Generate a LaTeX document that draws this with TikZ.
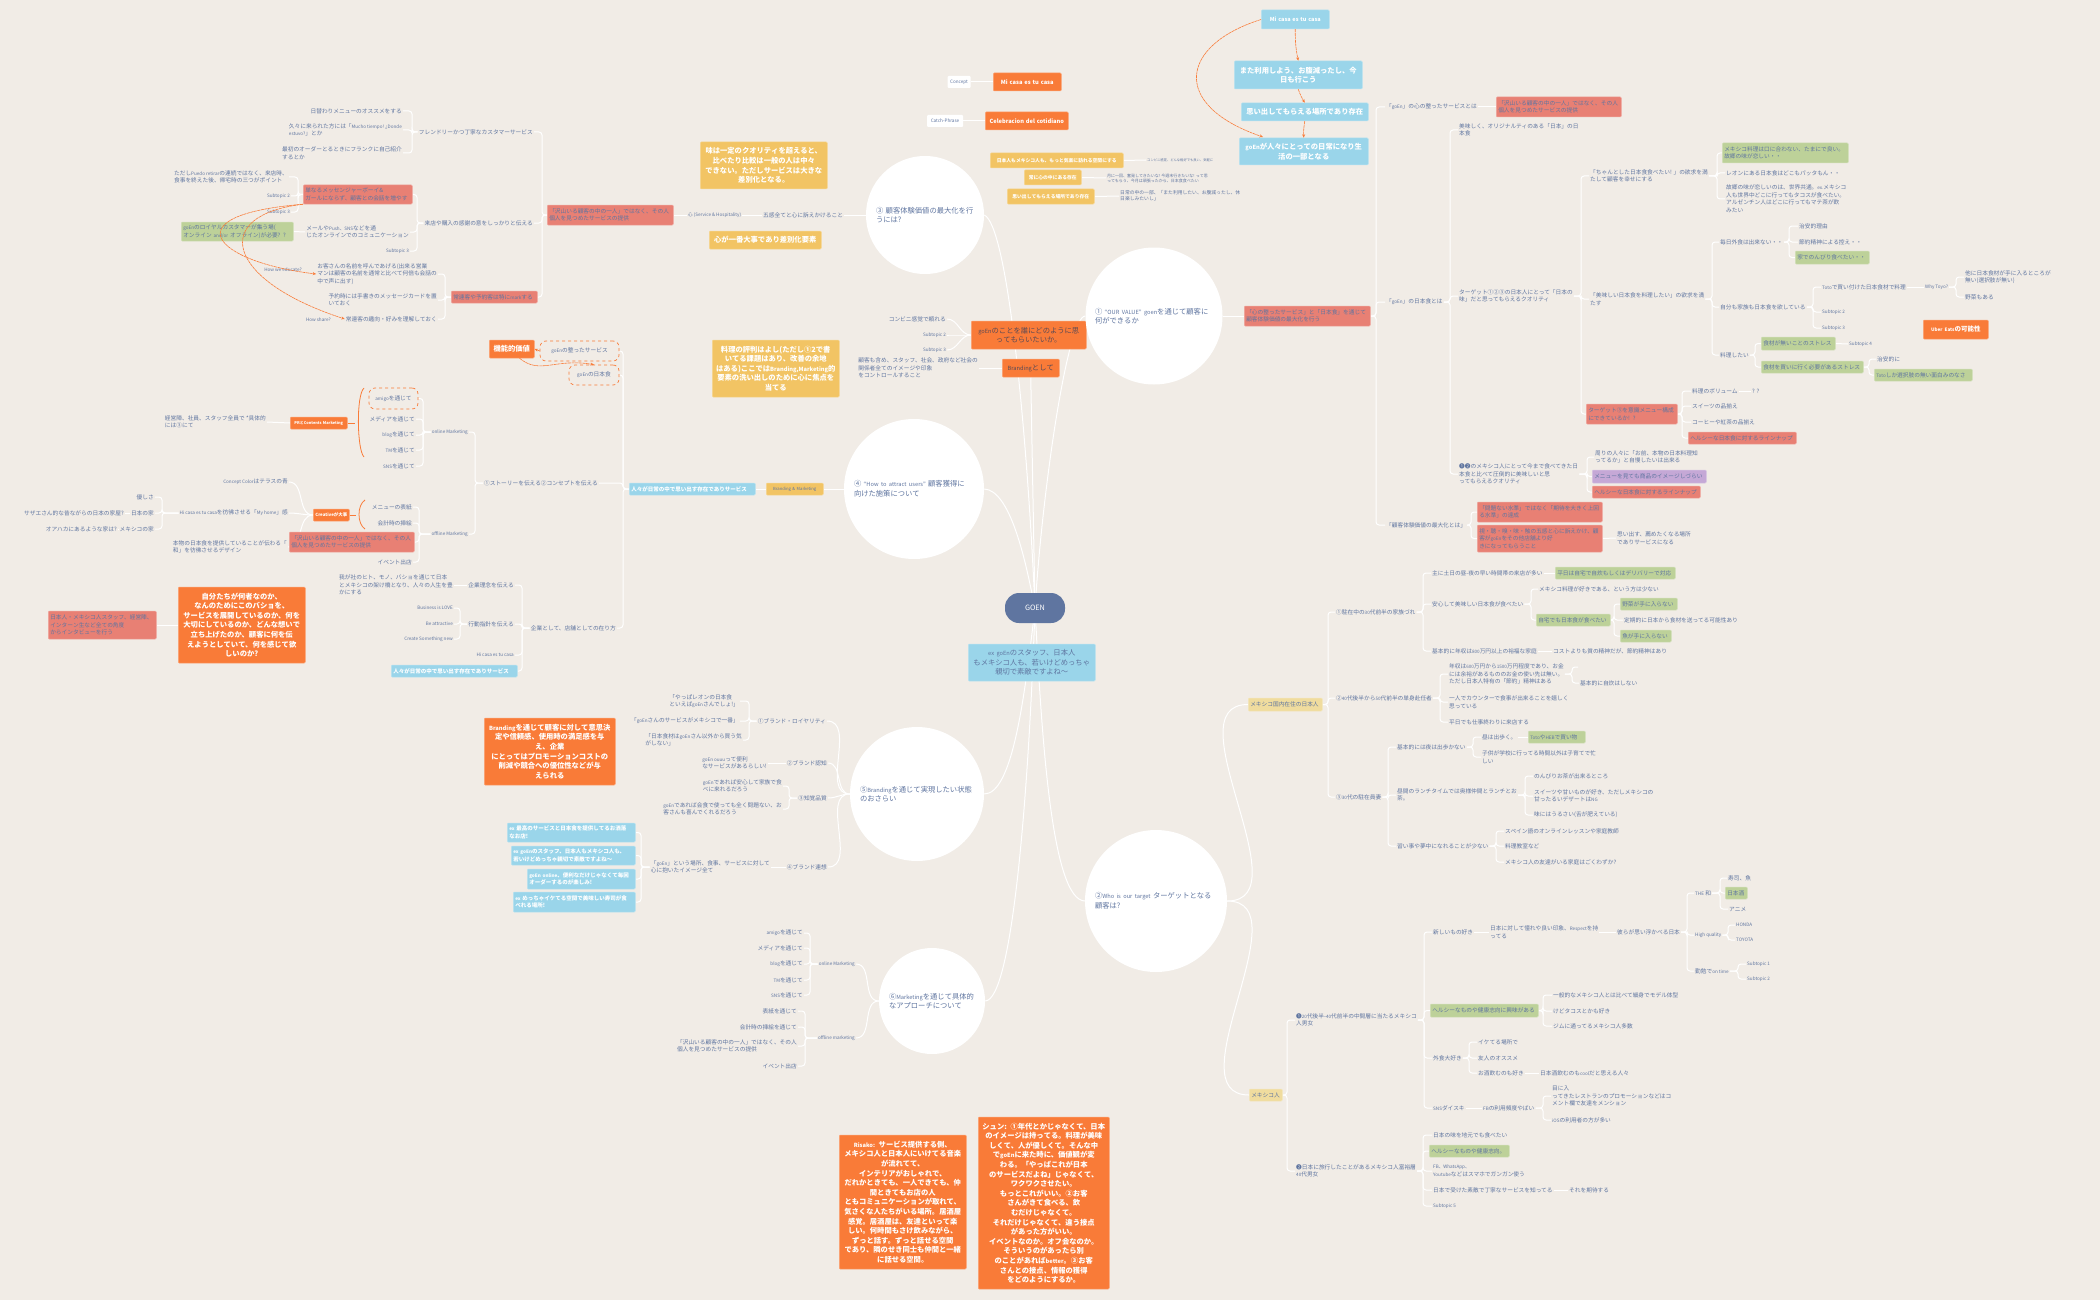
\documentclass[tikz,border=0pt]{standalone}
\usepackage{fontspec}
\setmainfont{Noto Sans CJK JP}
\XeTeXlinebreaklocale "ja"
\usetikzlibrary{arrows.meta}
\definecolor{paper}{HTML}{F1ECE6}
\definecolor{ink}{HTML}{5F75A0}
\definecolor{inkdark}{HTML}{5A4A55}
\definecolor{flame}{HTML}{F97B38}
\definecolor{rosy}{HTML}{E88074}
\definecolor{honey}{HTML}{F2C464}
\definecolor{straw}{HTML}{F0DC9E}
\definecolor{moss}{HTML}{BDD199}
\definecolor{sky}{HTML}{9AD5EA}
\definecolor{plum}{HTML}{C5A8D6}
\newcommand{\sizehub}{\fontsize{7.3}{9.6}\selectfont}
\newcommand{\sizetext}{\fontsize{5.7}{7.5}\selectfont}
\newcommand{\sizelatin}{\fontsize{4.6}{6}\selectfont}
\newcommand{\sizetiny}{\fontsize{4}{5}\selectfont}
\newcommand{\lat}[1]{{\sizelatin #1}}
\newcommand{\latb}[1]{{\sizetext #1}}
\pgfdeclarelayer{bg}
\pgfsetlayers{bg,main}
\tikzstyle{topic}=[text=ink, font=\sizetext, inner sep=1pt, align=left, anchor=west]
\tikzstyle{rtopic}=[topic, anchor=east]
\tikzstyle{latin}=[topic, font=\sizelatin]
\tikzstyle{rlatin}=[latin, anchor=east]
\tikzstyle{hub}=[circle, fill=white, text=ink, font=\sizehub, inner sep=0pt, align=left]
\tikzstyle{flat}=[anchor=west, rounded corners=1pt, inner xsep=2pt, inner ysep=0pt, align=left, font=\sizetext, text=ink]
\tikzstyle{redbox}=[flat, fill=rosy, draw=rosy!70!white, line width=0.5pt]
\tikzstyle{greenbox}=[flat, fill=moss, draw=moss!70!white, line width=0.5pt]
\tikzstyle{plumbox}=[flat, fill=plum, draw=plum!70!white, line width=0.5pt]
\tikzstyle{strawbox}=[flat, fill=straw, draw=straw!70!white, line width=0.5pt]
\tikzstyle{flamebox}=[flat, fill=flame, draw=flame!70!white, line width=0.5pt, text=white, font=\sizehub\bfseries, align=center]
\tikzstyle{honeybox}=[flat, fill=honey, draw=honey!70!white, line width=0.5pt, text=white, font=\sizehub\bfseries, align=center]
\tikzstyle{skybox}=[flat, fill=sky, draw=sky!70!white, line width=0.5pt, text=white, font=\fontsize{5.5}{7.5}\selectfont\bfseries]
\tikzstyle{ringed}=[draw=flame, dashed, line width=0.7pt, rounded corners=6pt, text=ink, font=\sizetext, inner sep=0pt, anchor=center]
\tikzstyle{link}=[white, line width=1pt, rounded corners=3pt]
\tikzstyle{relate}=[flame, line width=0.6pt, dash pattern=on 3pt off 0.6pt, -{Stealth[length=3.5pt,width=3pt]}]
\tikzstyle{bracket}=[flame, line width=0.8pt]
\tikzset{dims/.style 2 args={text width=\dimexpr #1pt-4pt\relax, minimum height=#2pt}}
\newcommand{\toright}[3]{\coordinate (tr) at (#2,0);
  \foreach \kid in {#3} {\draw[link] (#1.east) -- (#1.east -| tr) |- (\kid.west);}}
\newcommand{\toleft}[3]{\coordinate (tr) at (#2,0);
  \foreach \kid in {#3} {\draw[link] (#1.west) -- (#1.west -| tr) |- (\kid.east);}}
\newcommand{\swingleft}[2]{\foreach \kid in {#2} {\draw[link] (#1.west) to[out=180, in=0] (\kid.east);}}
\begin{document}
\begin{tikzpicture}[x=1pt, y=-1pt]
  \useasboundingbox (0,0) rectangle (2100,1300);

  \node[rounded corners=14pt, fill=ink, text=white, font=\sizehub, minimum width=60pt, minimum height=30pt, inner sep=0pt] (root) at (1035,608) {GOEN};

  \node[fill=white, rounded corners=1pt, latin, anchor=center, minimum width=23pt, minimum height=12pt, inner sep=0pt] (concept) at (959,82) {Concept};
  \node[flamebox, dims={68}{18}, font=\sizetext\bfseries] (concept_val) at (993,82) {Mi casa es tu casa};
  \node[fill=white, rounded corners=1pt, latin, anchor=center, minimum width=36pt, minimum height=12pt, inner sep=0pt] (catch) at (945,121) {Catch-Phrase};
  \node[flamebox, dims={83}{18}, font=\sizetext\bfseries] (catch_val) at (985,121) {Celebracion del cotidiano};

  \node[honeybox, dims={127}{47}] (honey_taste) at (700,165.5) {味は一定のクオリティを超えると、\\比べたり比較は一般の人は中々\\できない。ただしサービスは大きな\\差別化となる。};
  \node[honeybox, dims={112}{18}] (honey_heart) at (709,240) {心が一番大事であり差別化要素};
  \node[honeybox, dims={127}{57}] (honey_dish) at (712,368.5) {料理の評判はよし(ただし①2で書\\いてる課題はあり、改善の余地\\はある)ここでは\latb{Branding,Marketing}的\\要素の洗い出しのために心に焦点を\\当てる};

  \node[hub, minimum size=118pt, text width=98pt] (hub_three) at (925,215) {③ 顧客体験価値の最大化を行\\うには?};
  \node[topic] (five_senses) at (762,215) {五感全てと心に訴えかけること};
  \node[latin] (heart) at (687,215) {心 (Service \& Hospitality)};
  \node[redbox, dims={126}{20}] (three_person) at (547,215) {「沢山いる顧客の中の一人」ではなく、その人\\個人を見つめたサービスの提供};
  \node[rtopic] (friendly) at (534,132) {フレンドリーかつ丁寧なカスタマーサービス};
  \node[rtopic] (thanks) at (534,223) {来店や購入の感謝の意をしっかりと伝える};
  \node[redbox, dims={86}{12}] (regular) at (451,297) {常連客や予約客は特に\lat{mark}する};
  \node[rtopic] (daily_menu) at (403,111) {日替わりメニューのオススメをする};
  \node[rtopic] (long_time) at (403,130) {久々に来られた方には「\lat{Mucho tiempo! ¿Donde}\\\lat{estuvo?}」とか};
  \node[rtopic] (first_order) at (403,153) {最初のオーダーとるときにフランクに自己紹介\\するとか};
  \node[redbox, dims={109}{19}] (single_boy) at (303,194.5) {単なるメッセンジャーボーイ\&\\ガールにならず、顧客との会話を増やす};
  \node[rtopic] (online_talk) at (410,232) {メールや\lat{Push、SNS}などを通\\じたオンラインでのコミュニケーション};
  \node[rlatin] (thanks_sub) at (410,251) {Subtopic 3};
  \node[rtopic] (three_points) at (289,177) {ただし\lat{Puedo retirar}の連続ではなく、来店時、\\食事を終えた後、帰宅時の三つがポイント};
  \node[rlatin] (single_sub_a) at (291,196) {Subtopic 2};
  \node[rlatin] (single_sub_b) at (291,212) {Subtopic 3};
  \node[greenbox, dims={112}{19}] (loyal_place) at (181,231.5) {\lat{goEn}のロイヤルカスタマーが集う場(\\オンライン \lat{and/or} オフライン)が必要? ?};
  \node[rtopic] (guest_name) at (438,274) {お客さんの名前を呼んであげる(出来る営業\\マンは顧客の名前を通常と比べて何倍も会話の\\中で声に出す)};
  \node[rtopic] (hand_card) at (438,300) {予約時には手書きのメッセージカードを置\\いておく};
  \node[rtopic] (taste_know) at (438,319) {常連客の趣向・好みを理解しておく};
  \node[rlatin] (how_educate) at (303,270) {How we educate?};
  \node[rlatin] (how_share) at (332,320) {How share?};

  \node[flamebox, dims={115}{28}, text=inkdark, font=\sizehub] (who_think) at (971,335) {\latb{goEn}のことを誰にどのように思\\ってもらいたいか。};
  \node[flamebox, dims={57}{18}, text=inkdark, font=\sizehub] (as_brand) at (1002,368) {\latb{Branding}として};
  \node[rtopic] (convenience) at (947,319) {コンビニ感覚で頼れる};
  \node[rlatin] (think_sub_a) at (947,335) {Subtopic 2};
  \node[rlatin] (think_sub_b) at (947,350) {Subtopic 3};
  \node[rtopic] (brand_means) at (979,368) {顧客も含め、スタッフ、社会、政府など社会の\\関係者全てのイメージや印象\\をコントロールすること};

  \node[hub, minimum size=140pt, text width=120pt] (hub_four) at (914,489) {④ \latb{``How to attract users''} 顧客獲得に\\向けた施策について};
  \node[honeybox, dims={57}{12}, text=ink, font=\fontsize{4.2}{6}\selectfont] (brand_mkt) at (766,489) {Branding \& Marketing};
  \node[skybox, dims={126}{12}] (daily_service) at (629,489) {人々が日常の中で思い出す存在でありサービス};
  \node[flamebox, dims={45}{18}] (func_value) at (489,349) {機能的価値};
  \node[ringed, minimum width=79pt, minimum height=20pt] (neat_service) at (579.5,351) {\lat{goEn}の整ったサービス};
  \node[ringed, minimum width=50pt, minimum height=20pt] (good_food) at (594,375) {\lat{goEn}の日本食};
  \node[rtopic] (story) at (599,483) {①ストーリーを伝える②コンセプトを伝える};
  \node[rlatin] (online_mkt) at (469,432) {online Marketing};
  \node[rlatin] (offline_mkt) at (469,534) {offline Marketing};
  \node[ringed, minimum width=49pt, minimum height=21pt] (via_amigo) at (393.5,398.5) {\lat{amigo}を通じて};
  \node[rtopic] (via_media) at (416,419) {メディアを通じて};
  \node[rtopic] (via_blog) at (416,435) {\lat{blog}を通じて};
  \node[rtopic] (via_tm) at (416,450) {\lat{TM}を通じて};
  \node[rtopic] (via_sns) at (416,466) {\lat{SNS}を通じて};
  \node[flamebox, dims={61}{12}, font=\fontsize{3.9}{5}\selectfont\bfseries, inner xsep=0pt] (pr_contents) at (290,423) {PRとContents Marketing};
  \node[rtopic] (all_staff) at (267,422) {経営陣、社員、スタッフ全員で *具体的\\には③にて};
  \coordinate (pr_top) at (364,388);
  \coordinate (pr_bottom) at (364,457);
  \node[flamebox, dims={40}{12}, font=\fontsize{4.4}{5}\selectfont\bfseries, inner xsep=0pt] (creative) at (313,515) {Creativeが大事};
  \coordinate (creative_top) at (365,500);
  \coordinate (creative_bottom) at (365,529);
  \node[rtopic] (menu_cover) at (413,507) {メニューの表紙};
  \node[rtopic] (cash_art) at (413,523) {会計時の挿絵};
  \node[redbox, dims={125}{20}] (offline_person) at (289,542) {「沢山いる顧客の中の一人」ではなく、その人\\個人を見つめたサービスの提供};
  \node[rtopic] (event_a) at (413,562) {イベント出店};
  \node[rtopic] (terrace) at (289,482) {\lat{Concept Color}はテラスの青};
  \node[rtopic] (my_home) at (289,513) {\lat{Hi casa es tu casa}を彷彿させる「\lat{My home}」感};
  \node[rtopic] (real_food) at (288,547) {本物の日本食を提供していることが伝わる「\\和」を彷彿させるデザイン};
  \node[rtopic] (kindness) at (155,497) {優しさ};
  \node[rtopic] (jp_house) at (155,513) {日本の家};
  \node[rtopic] (mx_house) at (155,529) {メキシコの家};
  \node[rtopic] (sazae) at (125,513) {サザエさん的な昔ながらの日本の家屋?};
  \node[rtopic] (oaxaca) at (118,529) {オアハカにあるような家は?};
  \node[rtopic] (company) at (617,628) {企業として、店舗としての在り方};
  \node[rtopic] (philosophy) at (515,585) {企業理念を伝える};
  \node[rtopic] (guideline) at (515,624) {行動指針を伝える};
  \node[rlatin] (home_motto) at (515,655) {Hi casa es tu casa};
  \node[skybox, dims={126}{12}] (daily_service_b) at (391,671) {人々が日常の中で思い出す存在でありサービス};
  \node[rtopic] (our_people) at (454,585) {我が社のヒト、モノ、バショを通じて日本\\とメキシコの架け橋となり、人々の人生を豊\\かにする};
  \node[rlatin] (love) at (454,608) {Business is LOVE};
  \node[rlatin] (attractive) at (454,624) {Be attractive};
  \node[rlatin] (create_new) at (454,639) {Create Something new};
  \node[flamebox, dims={127}{76}] (who_we_are) at (178,625) {自分たちが何者なのか、\\なんのためにこのバショを、\\サービスを展開しているのか、何を\\大切にしているのか、どんな想いで\\立ち上げたのか、顧客に何を伝\\えようとしていて、何を感じて欲\\しいのか?};
  \node[redbox, dims={108}{28}] (interview) at (48,625) {日本人・メキシコ人スタッフ、経営陣、\\インターン生など全ての角度\\からインタビューを行う};

  \node[hub, minimum size=134pt, text width=114pt] (hub_five) at (917,794) {⑤\latb{Branding}を通じて実現したい状態\\のおさらい};
  \node[rtopic] (loyalty) at (827,721) {①ブランド・ロイヤリティ};
  \node[rtopic] (awareness) at (828,763) {②ブランド認知};
  \node[rtopic] (quality) at (828,798) {③知覚品質};
  \node[rtopic] (assoc) at (828,867) {④ブランド連想};
  \node[rtopic] (leon_food) at (740,701) {「やっぱレオンの日本食\\といえば\lat{goEn}さんでしょ!」};
  \node[rtopic] (best_mx) at (740,721) {「\lat{goEn}さんのサービスがメキシコで一番」};
  \node[rtopic] (only_buy) at (743,740) {「日本食材は\lat{goEn}さん以外から買う気\\がしない」};
  \node[rtopic] (handy) at (768,763) {\lat{goEn ouuu}って便利\\なサービスがあるらしい!};
  \node[rtopic] (family_safe) at (783,786) {\lat{goEn}であれば安心して家族で食\\べに来れるだろう};
  \node[rtopic] (dinner_safe) at (783,809) {\lat{goEn}であれば会食で使っても全く問題ない、お\\客さんも喜んでくれるだろう};
  \node[rtopic] (image_all) at (771,867) {「\lat{goEn}」という場所、食事、サービスに対して\\心に抱いたイメージ全て};
  \node[skybox, dims={128}{19}] (ex_best) at (507,832.5) {\lat{ex} 最高のサービスと日本食を提供してるお洒落\\なお店!};
  \node[skybox, dims={124}{19}] (ex_staff) at (511,855.5) {\lat{ex goEn}のスタッフ、日本人もメキシコ人も、\\若いけどめっちゃ親切で素敵ですよね〜};
  \node[skybox, dims={108}{20}] (ex_online) at (527,879) {\lat{goEn online}、便利なだけじゃなくて毎回\\オーダーするのが楽しみ!};
  \node[skybox, dims={122}{20}] (ex_sushi) at (513,902) {\lat{ex} めっちゃイケてる空間で美味しい寿司が食\\べれる場所!};
  \node[flamebox, dims={131}{67}] (brand_goal) at (484,751.5) {\latb{Branding}を通じて顧客に対して意思決\\定や信頼感、使用時の満足感を与\\え、企業\\にとってはプロモーションコストの\\削減や競合への優位性などが与\\えられる};

  \node[hub, minimum size=106pt, text width=86pt] (hub_six) at (932,1001) {⑥\latb{Marketing}を通じて具体的\\なアプローチについて};
  \node[rlatin] (six_online) at (856,964) {online Marketing};
  \node[rlatin] (six_offline) at (856,1038) {offline marketing};
  \node[rtopic] (six_amigo) at (804,933) {\lat{amigo}を通じて};
  \node[rtopic] (six_media) at (804,948) {メディアを通じて};
  \node[rtopic] (six_blog) at (804,964) {\lat{blog}を通じて};
  \node[rtopic] (six_tm) at (804,980) {\lat{TM}を通じて};
  \node[rtopic] (six_sns) at (804,995) {\lat{SNS}を通じて};
  \node[rtopic] (six_cover) at (798,1011) {表紙を通じて};
  \node[rtopic] (six_cash) at (798,1027) {会計時の挿絵を通じて};
  \node[rtopic] (six_person) at (798,1046) {「沢山いる顧客の中の一人」ではなく、その人\\個人を見つめたサービスの提供};
  \node[rtopic] (six_event) at (798,1066) {イベント出店};

  \node[flamebox, dims={127}{134}] (risako) at (839,1202) {\latb{Risako:} サービス提供する側、\\メキシコ人と日本人にいけてる音楽\\が流れてて、\\インテリアがおしゃれで、\\だれかときても、一人できても、仲\\間ときてもお店の人\\ともコミュニケーションが取れて、\\気さくな人たちがいる場所。居酒屋\\感覚。居酒屋は、友達といって楽\\しい。何時間もさけ飲みながら、\\ずっと話す。ずっと話せる空間\\であり、隣のせき同士も仲間と一緒\\に話せる空間。};
  \node[flamebox, dims={131}{172}] (shun) at (978,1203) {シュン: ①年代とかじゃなくて、日本\\のイメージは持ってる。料理が美味\\しくて、人が優しくて。そんな中\\で\latb{goEn}に来た時に、価値観が変\\わる。「やっぱこれが日本\\のサービスだよね」じゃなくて、\\ワクワクさせたい。\\もっとこれがいい。②お客\\さんがきて食べる、飲\\むだけじゃなくて。\\それだけじゃなくて、違う接点\\があった方がいい。\\イベントなのか。オフ会なのか。\\そういうのがあったら別\\のことがあれば\latb{better}。③お客\\さんとの接点、情報の獲得\\をどのようにするか。};

  \node[skybox, dims={68}{19}, align=center] (top_home) at (1261,19.5) {Mi casa es tu casa};
  \node[skybox, dims={128}{28}, align=center, font=\sizehub\bfseries] (use_again) at (1234,75) {また利用しよう、お腹減ったし、今\\日も行こう};
  \node[skybox, dims={127}{18}, align=center, font=\sizehub\bfseries] (remember) at (1241,112) {思い出してもらえる場所であり存在};
  \node[skybox, dims={129}{27}, align=center, font=\sizehub\bfseries] (everyday) at (1239,151.5) {\latb{goEn}が人々にとっての日常になり生\\活の一部となる};
  \coordinate (everyday_top) at (1263,137);

  \node[honeybox, dims={133}{15}, font=\fontsize{4.8}{6}\selectfont\bfseries] (easy_visit) at (990,160.5) {日本人もメキシコ人も、もっと気楽に訪れる空間にする};
  \node[honeybox, dims={57}{15}, font=\fontsize{4.8}{6}\selectfont\bfseries] (in_mind) at (1024,177.5) {常に心の中にある存在};
  \node[honeybox, dims={87}{15}, font=\fontsize{4.8}{6}\selectfont\bfseries] (remember_b) at (1007,196.5) {思い出してもらえる場所であり存在};
  \node[topic, font=\fontsize{3.3}{4}\selectfont] (casual) at (1146,160) {コンビニ感覚、どんな格好でも良い、気軽に};
  \node[topic, font=\sizetiny] (monthly) at (1106,178) {月に一回、奮発してきたいな! 今週末行きたいな! って思\\ってもらう、今月は頑張ったから、日本食食べたい};
  \node[topic, font=\fontsize{4.8}{6}\selectfont] (everyday_part) at (1119,196) {日常の中の一部、「また利用したい、お腹減ったし、休\\日楽しみたいし」};

  \node[hub, minimum size=137pt, text width=118pt] (hub_one) at (1154,316) {① \latb{``OUR VALUE'' goen}を通じて顧客に\\何ができるか};
  \node[redbox, dims={126}{20}] (one_red) at (1244,316) {「心の整ったサービス」と「日本食」を通じて\\顧客体験価値の最大化を行う};
  \node[topic] (neat_means) at (1385,107) {「\lat{goEn}」の心の整ったサービスとは};
  \node[redbox, dims={125}{20}] (neat_red) at (1496,107) {「沢山いる顧客の中の一人」ではなく、その人\\個人を見つめたサービスの提供};
  \node[topic] (food_means) at (1385,302) {「\lat{goEn}」の日本食とは};
  \node[topic] (experience) at (1385,525) {「顧客体験価値の最大化とは」};
  \node[topic] (original) at (1458,130) {美味しく、オリジナルティのある「日本」の日\\本食};
  \node[topic] (target_jp) at (1458,296) {ターゲット①②③の日本人にとって「日本の\\味」だと思ってもらえるクオリティ};
  \node[topic] (target_mx) at (1458,474) {❶❷のメキシコ人にとって今まで食べてきた日\\本食と比べて圧倒的に美味しいと思\\ってもらえるクオリティ};
  \node[topic] (proper_food) at (1589,176) {「ちゃんとした日本食食べたい! 」の欲求を満\\たして顧客を幸せにする};
  \node[topic] (cook_food) at (1589,299) {「美味しい日本食を料理したい」の欲求を満\\たす};
  \node[redbox, dims={91}{20}] (menu_check) at (1586,414) {ターゲット③を意識メニュー構成\\にできているか! ?};
  \node[greenbox, dims={126}{20}] (homesick) at (1722,153) {メキシコ料理は口に合わない、たまにで良い。\\故郷の味が恋しい・・};
  \node[topic] (leon_fake) at (1725,173) {レオンにある日本食はどこもパッタもん・・};
  \node[topic] (world_taste) at (1725,199) {故郷の味が恋しいのは、世界共通。\lat{ex.}メキシコ\\人も世界中どこに行ってもタコスが食べたい。\\アルゼンチン人はどこに行ってもマテ茶が飲\\みたい};
  \node[topic] (no_eat_out) at (1719,242) {毎日外食は出来ない・・};
  \node[topic] (family_want) at (1719,307) {自分も家族も日本食を欲している};
  \node[topic] (want_cook) at (1719,355) {料理したい};
  \node[topic] (safety) at (1798,226) {治安的理由};
  \node[topic] (saving) at (1798,242) {節約精神による控え・・};
  \node[greenbox, dims={74}{13}] (relax_home) at (1795,257.5) {家でのんびり食べたい・・};
  \node[topic] (toto_cook) at (1821,287) {\lat{Toto}で買い付けた日本食材で料理};
  \node[latin] (family_sub_a) at (1821,312) {Subtopic 2};
  \node[latin] (family_sub_b) at (1821,328) {Subtopic 3};
  \node[latin] (why_toyo) at (1924,287) {Why Toyo?};
  \node[topic] (no_other) at (1964,277) {他に日本食材が手に入るところが\\無い(選択肢が無い)};
  \node[topic] (veg_too) at (1964,297) {野菜もある};
  \node[flamebox, dims={69}{19}, font=\fontsize{6.5}{8}\selectfont\bfseries, inner xsep=0pt] (uber) at (1923,329.5) {\lat{Uber Eats}の可能性};
  \node[greenbox, dims={74}{13}] (no_stuff) at (1761,343.5) {食材が無いことのストレス};
  \node[greenbox, dims={102}{12}] (go_buy) at (1761,367) {食材を買いに行く必要があるストレス};
  \node[latin] (stress_sub) at (1848,344) {Subtopic 4};
  \node[topic] (safety_b) at (1876,359) {治安的に};
  \node[greenbox, dims={98}{12}] (toto_only) at (1874,375) {\lat{Toto}しか選択肢の無い面白みのなさ};
  \node[topic] (volume) at (1691,391) {料理のボリューム};
  \node[topic] (unknown) at (1751,391) {? ?};
  \node[topic] (sweets) at (1691,406) {スイーツの品揃え};
  \node[topic] (coffee) at (1691,422) {コーヒーや紅茶の品揃え};
  \node[redbox, dims={108}{12}] (healthy_a) at (1688,438) {ヘルシーな日本食に対するラインナップ};
  \node[topic] (boast) at (1594,457) {周りの人々に「お前、本物の日本料理知\\ってるか」と自慢したいは出来る};
  \node[plumbox, dims={114}{13}] (menu_hard) at (1592,476.5) {メニューを見ても商品のイメージしづらい};
  \node[redbox, dims={108}{12}] (healthy_b) at (1592,492) {ヘルシーな日本食に対するラインナップ};
  \node[redbox, dims={125}{20}] (above_par) at (1477,512) {「問題ない水準」ではなく「期待を大きく上回\\る水準」の達成};
  \node[redbox, dims={125}{27}] (senses_red) at (1477,538.5) {視・聴・嗅・味・触の五感と心に訴えかけ、顧\\客が\lat{goEn}をその他店舗より好\\きになってもらうこと};
  \node[topic] (recommend) at (1616,538) {思い出す、薦めたくなる場所\\でありサービスになる};

  \node[skybox, dims={127}{37}, align=center, text=ink, font=\sizehub] (center_ex) at (968,662.5) {\latb{ex goEn}のスタッフ、日本人\\もメキシコ人も、若いけどめっちゃ\\親切で素敵ですよね〜};

  \node[hub, minimum size=142pt, text width=122pt] (hub_two) at (1156,901) {②\latb{Who is our target} ターゲットとなる\\顧客は?};
  \node[strawbox, dims={74}{13}] (resident) at (1248,704.5) {メキシコ国内在住の日本人};
  \node[strawbox, dims={33}{12}] (mexican) at (1249,1095) {メキシコ人};
  \node[topic] (family) at (1335,612) {①駐在中の\lat{30}代前半の家族づれ};
  \node[topic] (single_man) at (1335,698) {②\lat{40}代後半から\lat{50}代前半の単身赴任者};
  \node[topic] (wife) at (1335,797) {③\lat{30}代の駐在員妻};
  \node[topic] (weekend) at (1431,573) {主に土日の昼-夜の早い時間帯の来店が多い};
  \node[topic] (safe_food) at (1431,604) {安心して美味しい日本食が食べたい};
  \node[topic] (rich_home) at (1431,651) {基本的に年収は\lat{800}万円以上の裕福な家庭};
  \node[greenbox, dims={120}{12}] (delivery) at (1555,573) {平日は自宅で自炊もしくはデリバリーで対応};
  \node[topic] (cost_quality) at (1552,651) {コストよりも質の精神だが、節約精神はあり};
  \node[topic] (few_fans) at (1538,589) {メキシコ料理が好きである、という方は少ない};
  \node[greenbox, dims={74}{12}] (home_food) at (1536,620) {自宅でも日本食が食べたい};
  \node[greenbox, dims={57}{12}] (no_veg) at (1620,604) {野菜が手に入らない};
  \node[topic] (ship_food) at (1623,620) {定期的に日本から食材を送ってる可能性あり};
  \node[greenbox, dims={51}{12}] (no_fish) at (1620,636) {魚が手に入らない};
  \node[topic] (income) at (1448,674) {年収は\lat{600}万円から\lat{1500}万円程度であり、お金\\には余裕があるもののお金の使い先は無い。\\ただし日本人特有の「節約」精神はある};
  \node[topic] (counter) at (1448,702) {一人でカウンターで食事が出来ることを嬉しく\\思っている};
  \node[topic] (after_work) at (1448,722) {平日でも仕事終わりに来店する};
  \coordinate (income_stub) at (1578,667);
  \node[topic] (no_cooking) at (1579,683) {基本的に自炊はしない};
  \node[topic] (no_night) at (1396,747) {基本的には夜は出歩かない};
  \node[topic] (lunch) at (1396,795) {昼間のランチタイムでは奥様仲間とランチとお\\茶。};
  \node[topic] (no_hobby) at (1396,846) {習い事や夢中になれることが少ない};
  \node[topic] (day_out) at (1481,737) {昼は出歩く。};
  \node[greenbox, dims={57}{12}] (toto_hebd) at (1528,737) {\lat{Toto}や\lat{HEB}で買い物};
  \node[topic] (childcare) at (1481,757) {子供が学校に行ってる時間以外は子育てで忙\\しい};
  \node[topic] (tea_place) at (1533,776) {のんびりお茶が出来るところ};
  \node[topic] (sweet_love) at (1533,796) {スイーツや甘いものが好き、ただしメキシコの\\甘ったるいデザートは\lat{NG}};
  \node[topic] (picky) at (1533,815) {味にはうるさい(舌が肥えている)};
  \node[topic] (spanish) at (1504,831) {スペイン語のオンラインレッスンや家庭教師};
  \node[topic] (cook_class) at (1504,846) {料理教室など};
  \node[topic] (mx_friend) at (1504,862) {メキシコ人の友達がいる家庭はごくわずか?};

  \node[topic] (middle) at (1295,1020) {❶\lat{20}代後半-\lat{40}代前半の中間層に当たるメキシコ\\人男女};
  \node[topic] (wealthy) at (1295,1171) {❷日本に旅行したことがあるメキシコ人富裕層\\\lat{40}代男女};
  \node[topic] (new_things) at (1432,932) {新しいもの好き};
  \node[greenbox, dims={108}{13}] (healthy_interest) at (1430,1010.5) {ヘルシーなものや健康志向に興味がある};
  \node[topic] (eat_out) at (1432,1058) {外食大好き};
  \node[topic] (sns_love) at (1432,1108) {\lat{SNS}ダイスキ};
  \node[topic] (respect) at (1489,932) {日本に対して憧れや良い印象、\lat{Respect}を持\\ってる};
  \node[topic] (imagine) at (1616,932) {彼らが思い浮かべる日本};
  \node[topic] (the_wa) at (1694,893) {\lat{THE} 和};
  \node[latin] (high_q) at (1694,935) {High quality};
  \node[topic] (on_time) at (1694,971) {勤勉で\lat{on time}};
  \node[topic] (sushi) at (1727,878) {寿司、魚};
  \node[greenbox, dims={22}{12}] (sake) at (1725,893) {日本酒};
  \node[topic] (anime) at (1728,909) {アニメ};
  \node[latin] (honda) at (1735,925) {HONDA};
  \node[latin] (toyota) at (1735,940) {TOYOTA};
  \node[latin] (time_sub_a) at (1746,964) {Subtopic 1};
  \node[latin] (time_sub_b) at (1746,979) {Subtopic 2};
  \node[topic] (slim) at (1552,995) {一般的なメキシコ人とは比べて細身でモデル体型};
  \node[topic] (tacos) at (1552,1011) {けどタコスとかも好き};
  \node[topic] (gym) at (1552,1026) {ジムに通ってるメキシコ人多数};
  \node[topic] (cool_place) at (1477,1042) {イケてる場所で};
  \node[topic] (friend_rec) at (1477,1058) {友人のオススメ};
  \node[topic] (drink_love) at (1477,1073) {お酒飲むのも好き};
  \node[topic] (sake_cool) at (1539,1073) {日本酒飲むのも\lat{cool}だと思える人々};
  \node[topic] (fb_use) at (1482,1108) {\lat{FB}の利用頻度やばい};
  \node[topic] (mention) at (1551,1096) {目に入\\ってきたレストランのプロモーションなどはコ\\メント欄で友達をメンション};
  \node[topic] (ios_use) at (1551,1120) {\lat{iOS}の利用者の方が多い};
  \node[topic] (local_taste) at (1432,1135) {日本の味を地元でも食べたい};
  \node[greenbox, dims={80}{12}] (healthy_want) at (1429,1151) {ヘルシーなものや健康志向。};
  \node[topic] (phone_use) at (1432,1171) {\lat{FB、WhatsApp、}\\\lat{Youtube}などはスマホでガンガン使う};
  \node[topic] (know_service) at (1432,1190) {日本で受けた素敵で丁寧なサービスを知ってる};
  \node[topic] (expect) at (1568,1190) {それを期待する};
  \node[latin] (wealthy_sub) at (1432,1206) {Subtopic 5};

  \draw[relate] (single_boy.south west) .. controls (170,215) and (215,262) .. (guest_name.west);
  \draw[relate] (single_boy.south west) .. controls (210,215) and (225,280) .. (taste_know.west);
  \draw[relate] (neat_service.west) -- (func_value.east);
  \draw[relate] (func_value.-50) .. controls (540,375) and (555,358) .. (good_food.north);
  \draw[relate] (top_home.south) to[bend right=6] (use_again.north);
  \draw[relate] (use_again.south) to[bend right=6] (remember.north);
  \draw[relate] (remember.south) to[bend right=6] (everyday.north);
  \draw[relate] (top_home.west) .. controls (1180,45) and (1170,105) .. (everyday_top);
  \draw[bracket] (pr_contents.east) -- ++(7,0);
  \draw[bracket] (pr_top) .. controls (356,395) and (357,450) .. (pr_bottom);
  \draw[bracket] (creative.east) -- ++(6,0);
  \draw[bracket] (creative_top) .. controls (357,505) and (357,524) .. (creative_bottom);

  \begin{pgfonlayer}{bg}
    \fill[paper] (0,0) rectangle (2100,1300);
    \draw[link] (hub_three.east) .. controls (1007,225) and (1026,420) .. (root);
    \draw[link] (hub_four.east) .. controls (1010,490) and (1025,560) .. (root);
    \draw[link] (hub_one.west) .. controls (1068,316) and (1044,480) .. (root);
    \draw[link] (as_brand.south) -- (root);
    \draw[link] (hub_five.east) .. controls (1012,794) and (1024,700) .. (root);
    \draw[link] (hub_six.east) .. controls (1012,1000) and (1028,800) .. (root);
    \draw[link] (hub_two.west) .. controls (1052,900) and (1042,740) .. (root);

    \draw[link] (concept.east) -- (concept_val.west);
    \draw[link] (catch.east) -- (catch_val.west);
    \draw[link] (hub_three.west) -- (five_senses.east);
    \draw[link] (five_senses.west) -- (heart.east);
    \draw[link] (heart.west) -- (three_person.east);
    \toleft{three_person}{542}{friendly,thanks,regular}
    \toleft{friendly}{412}{daily_menu,long_time,first_order}
    \toleft{thanks}{417}{single_boy,online_talk,thanks_sub}
    \toleft{single_boy}{298}{three_points,single_sub_a,single_sub_b}
    \draw[link] (online_talk.west) -- (loyal_place.east);
    \toleft{regular}{445}{guest_name,hand_card,taste_know}

    \swingleft{who_think}{convenience,think_sub_a,think_sub_b}
    \draw[link] (as_brand.west) -- (brand_means.east);

    \draw[link] (hub_four.west) -- (brand_mkt.east);
    \draw[link] (brand_mkt.west) -- (daily_service.east);
    \toleft{daily_service}{623}{neat_service,good_food,story,company}
    \toleft{story}{475}{online_mkt,offline_mkt}
    \toleft{online_mkt}{423}{via_amigo,via_media,via_blog,via_tm,via_sns}
    \toleft{offline_mkt}{419}{menu_cover,cash_art,offline_person,event_a}
    \draw[link] (pr_contents.west) -- (all_staff.east);
    \swingleft{creative}{terrace,my_home,real_food}
    \toleft{my_home}{162}{kindness,jp_house,mx_house}
    \draw[link] (jp_house.west) -- (sazae.east);
    \draw[link] (mx_house.west) -- (oaxaca.east);
    \toleft{company}{522}{philosophy,guideline,home_motto,daily_service_b}
    \draw[link] (philosophy.west) -- (our_people.east);
    \toleft{guideline}{460}{love,attractive,create_new}
    \draw[link] (who_we_are.west) -- (interview.east);

    \swingleft{hub_five}{loyalty,awareness,quality,assoc}
    \toleft{loyalty}{749}{leon_food,best_mx,only_buy}
    \draw[link] (awareness.west) -- (handy.east);
    \toleft{quality}{789}{family_safe,dinner_safe}
    \draw[link] (assoc.west) -- (image_all.east);
    \toleft{image_all}{641}{ex_best,ex_staff,ex_online,ex_sushi}

    \swingleft{hub_six}{six_online,six_offline}
    \toleft{six_online}{810}{six_amigo,six_media,six_blog,six_tm,six_sns}
    \toleft{six_offline}{805}{six_cover,six_cash,six_person,six_event}

    \draw[link] (easy_visit.east) -- (casual.west);
    \draw[link] (in_mind.east) -- (monthly.west);
    \draw[link] (remember_b.east) -- (everyday_part.west);

    \draw[link] (hub_one.east) -- (one_red.west);
    \toright{one_red}{1376}{neat_means,food_means,experience}
    \draw[link] (neat_means.east) -- (neat_red.west);
    \toright{food_means}{1450}{original,target_jp,target_mx}
    \toright{target_jp}{1581}{proper_food,cook_food,menu_check}
    \toright{proper_food}{1717}{homesick,leon_fake,world_taste}
    \toright{cook_food}{1712}{no_eat_out,family_want,want_cook}
    \toright{no_eat_out}{1789}{safety,saving,relax_home}
    \toright{family_want}{1813}{toto_cook,family_sub_a,family_sub_b}
    \draw[link] (toto_cook.east) -- (why_toyo.west);
    \toright{why_toyo}{1956}{no_other,veg_too}
    \toright{want_cook}{1755}{no_stuff,go_buy}
    \draw[link] (no_stuff.east) -- (stress_sub.west);
    \toright{go_buy}{1869}{safety_b,toto_only}
    \toright{menu_check}{1682}{volume,sweets,coffee,healthy_a}
    \draw[link] (volume.east) -- (unknown.west);
    \toright{target_mx}{1587}{boast,menu_hard,healthy_b}
    \toright{experience}{1471}{above_par,senses_red}
    \draw[link] (senses_red.east) -- (recommend.west);

    \draw[link] (hub_two.east) to[out=0, in=180] (resident.west);
    \draw[link] (hub_two.east) to[out=0, in=180] (mexican.west);
    \toright{resident}{1328}{family,single_man,wife}
    \toright{family}{1423}{weekend,safe_food,rich_home}
    \draw[link] (weekend.east) -- (delivery.west);
    \draw[link] (rich_home.east) -- (cost_quality.west);
    \toright{safe_food}{1531}{few_fans,home_food}
    \toright{home_food}{1614}{no_veg,ship_food,no_fish}
    \toright{single_man}{1440}{income,counter,after_work}
    \toright{income}{1572}{income_stub,no_cooking}
    \toright{wife}{1388}{no_night,lunch,no_hobby}
    \toright{no_night}{1473}{day_out,childcare}
    \draw[link] (day_out.east) -- (toto_hebd.west);
    \toright{lunch}{1525}{tea_place,sweet_love,picky}
    \toright{no_hobby}{1496}{spanish,cook_class,mx_friend}

    \toright{mexican}{1287}{middle,wealthy}
    \toright{middle}{1424}{new_things,healthy_interest,eat_out,sns_love}
    \draw[link] (new_things.east) -- (respect.west);
    \draw[link] (respect.east) -- (imagine.west);
    \toright{imagine}{1687}{the_wa,high_q,on_time}
    \toright{the_wa}{1720}{sushi,sake,anime}
    \toright{high_q}{1728}{honda,toyota}
    \toright{on_time}{1738}{time_sub_a,time_sub_b}
    \toright{healthy_interest}{1543}{slim,tacos,gym}
    \toright{eat_out}{1469}{cool_place,friend_rec,drink_love}
    \draw[link] (drink_love.east) -- (sake_cool.west);
    \draw[link] (sns_love.east) -- (fb_use.west);
    \toright{fb_use}{1543}{mention,ios_use}
    \toright{wealthy}{1423}{local_taste,healthy_want,phone_use,know_service,wealthy_sub}
    \draw[link] (know_service.east) -- (expect.west);
  \end{pgfonlayer}
\end{tikzpicture}
\end{document}
